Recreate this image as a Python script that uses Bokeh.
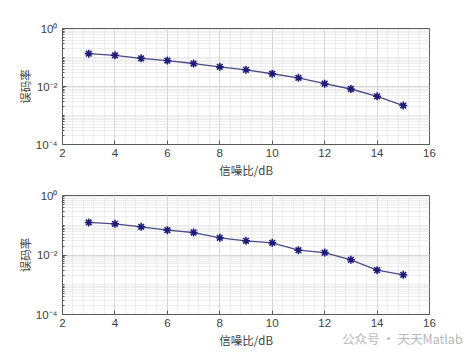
from bokeh.plotting import figure
from bokeh.layouts import column
from bokeh.models import FixedTicker, CustomJSTickFormatter, Range1d, Div
from bokeh.embed import file_html
from bokeh.resources import INLINE

snr = [3, 4, 5, 6, 7, 8, 9, 10, 11, 12, 13, 14, 15]
ber_top = [0.136, 0.119, 0.094, 0.0785, 0.062, 0.0476, 0.0376, 0.0275, 0.020, 0.0125, 0.0082, 0.0046, 0.0022]
ber_bottom = [0.124, 0.112, 0.0886, 0.0682, 0.057, 0.0378, 0.030, 0.0257, 0.0145, 0.0121, 0.0069, 0.0031, 0.00216]
x_ticks = [2, 4, 6, 8, 10, 12, 14, 16]
y_ticks = [1e-4, 1e-2, 1.0]
x_label = "信噪比/dB"
y_label = "误码率"
watermark = "公众号 · 天天Matlab"

x_minor = [2 + 0.4 * i for i in range(36)]
y_minor = [k * 10.0 ** e for e in range(-4, 0) for k in range(1, 10)]

AX = "#5a5a5a"
TXT = "#404040"
LINE = "#4b4b86"
MARK = "#1c1c78"

fmt = CustomJSTickFormatter(code="""
const e = Math.round(Math.log10(tick));
const sup = {'0':'\u2070','1':'\u00b9','2':'\u00b2','3':'\u00b3','4':'\u2074','-':'\u207b'};
return '10' + String(e).split('').map(c => sup[c]).join('');
""")


def make(ber, height, top, bottom):
    p = figure(width=474, height=height, y_axis_type="log",
               x_range=Range1d(2, 16), y_range=Range1d(1e-4, 1.0),
               output_backend="svg", toolbar_location=None,
               min_border_left=62, min_border_right=45,
               min_border_top=top, min_border_bottom=bottom)
    p.background_fill_color = "white"
    p.outline_line_color = AX
    p.outline_line_width = 1
    for ax in (p.xaxis[0], p.yaxis[0]):
        ax.axis_line_color = AX
        ax.major_tick_line_color = AX
        ax.minor_tick_line_color = AX
        ax.major_tick_in = 4
        ax.major_tick_out = 0
        ax.minor_tick_in = 2
        ax.minor_tick_out = 0
        ax.major_label_text_color = TXT
        ax.major_label_text_font = "Liberation Sans"
        ax.major_label_text_font_size = "11.5px"
        ax.axis_label_text_color = TXT
        ax.axis_label_text_font = "Noto Sans CJK SC"
        ax.axis_label_text_font_size = "11.5px"
        ax.axis_label_text_font_style = "normal"
    p.xaxis[0].ticker = FixedTicker(ticks=x_ticks, minor_ticks=x_minor)
    p.yaxis[0].ticker = FixedTicker(ticks=y_ticks, minor_ticks=y_minor)
    p.yaxis[0].formatter = fmt
    p.xaxis[0].axis_label = x_label
    p.yaxis[0].axis_label = y_label
    p.xaxis[0].axis_label_standoff = 2
    p.yaxis[0].axis_label_standoff = 0
    p.xaxis[0].minor_tick_line_color = None
    p.xaxis[0].major_label_standoff = 4

    p.xgrid[0].ticker = FixedTicker(ticks=x_ticks, minor_ticks=x_minor)
    p.ygrid[0].ticker = FixedTicker(ticks=y_ticks, minor_ticks=y_minor)
    for g in (p.xgrid[0], p.ygrid[0]):
        g.grid_line_color = "#d6d6d6"
        g.grid_line_width = 1
        g.minor_grid_line_color = "#dcdcdc"
        g.minor_grid_line_dash = "1 1"
        g.minor_grid_line_width = 1

    p.line(snr, ber, line_color=LINE, line_width=1.3)
    p.scatter(snr, ber, marker="asterisk", size=8, line_color=MARK, line_width=1.6)
    return p


p1 = make(ber_top, 180, 28, 35)
p2 = make(ber_bottom, 175, 15, 41)
wm = Div(text=watermark, width=130, margin=(-24, 0, 0, 342),
         styles={"color": "#b8b8b8", "font-family": "Noto Sans CJK SC", "font-size": "12.5px",
                 "white-space": "nowrap", "line-height": "16px"})

layout = column(p1, p2, wm, spacing=0)
open("out.html", "w").write(file_html(layout, INLINE))
